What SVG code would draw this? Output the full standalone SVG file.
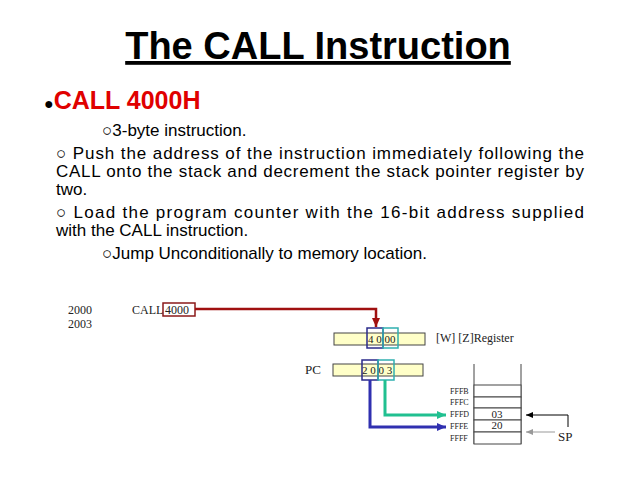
<svg xmlns="http://www.w3.org/2000/svg" width="638" height="478" viewBox="0 0 638 478">
<style>
.b{font-family:"Liberation Sans",Arial,sans-serif;font-size:17px;fill:#000}
.s{font-family:"Liberation Serif","Times New Roman",serif;fill:#222}
.bar{fill:#ffffc8;stroke:#444;stroke-width:1}
.cell{fill:#fff;stroke:#444;stroke-width:1}
</style>
<defs>
<marker id="ar" markerUnits="userSpaceOnUse" markerWidth="10" markerHeight="10" refX="9" refY="5" orient="auto"><path d="M0,1L9,5L0,9z" fill="#a01010"/></marker>
<marker id="ab" markerUnits="userSpaceOnUse" markerWidth="10" markerHeight="10" refX="9" refY="5" orient="auto"><path d="M0,1L9,5L0,9z" fill="#3030b0"/></marker>
<marker id="ac" markerUnits="userSpaceOnUse" markerWidth="10" markerHeight="10" refX="9" refY="5" orient="auto"><path d="M0,1L9,5L0,9z" fill="#20c090"/></marker>
<marker id="ak" markerUnits="userSpaceOnUse" markerWidth="8" markerHeight="8" refX="7" refY="4" orient="auto"><path d="M0,1L7,4L0,7z" fill="#000"/></marker>
<marker id="ag" markerUnits="userSpaceOnUse" markerWidth="8" markerHeight="8" refX="7" refY="4" orient="auto"><path d="M0,1L7,4L0,7z" fill="#999"/></marker>
</defs>
<rect width="638" height="478" fill="#fff"/>
<text x="318" y="59" text-anchor="middle" font-family="Liberation Sans,Arial,sans-serif" font-size="38" font-weight="bold" text-decoration="underline">The CALL Instruction</text>
<text x="44" y="109" font-family="Liberation Sans,Arial,sans-serif" font-size="25" font-weight="bold" fill="#e00000"><tspan fill="#000" font-size="16">●</tspan>CALL 4000H</text>
<text class="b" x="102" y="136">○3-byte instruction.</text>
<text class="b" x="56" y="159" textLength="528" lengthAdjust="spacing">○   Push the address of the instruction immediately following  the</text>
<text class="b" x="56" y="177" textLength="528" lengthAdjust="spacing">CALL onto the stack and decrement the stack pointer register  by</text>
<text class="b" x="56" y="195">two.</text>
<text class="b" x="56" y="218" textLength="528" lengthAdjust="spacing">○   Load the program counter with the 16-bit address supplied</text>
<text class="b" x="56" y="236">with the CALL instruction.</text>
<text class="b" x="102" y="259">○Jump Unconditionally to memory location.</text>

<g id="addr"><text class="s" x="68" y="314" font-size="12">2000</text><text class="s" x="68" y="328" font-size="12">2003</text></g>
<g id="call"><text class="s" x="132" y="314" font-size="12">CALL</text><rect x="163" y="303" width="32" height="13" fill="none" stroke="#8b1a1a" stroke-width="1.5"/><text class="s" x="165" y="314" font-size="12">4000</text></g>
<g id="wz"><rect class="bar" x="334" y="333" width="91" height="12"/><text class="s" x="368" y="343" font-size="11">4 0 00</text>
<rect x="367" y="328" width="16" height="20" fill="none" stroke="#2a2a8a" stroke-width="1.5"/><rect x="383" y="328" width="15" height="20" fill="none" stroke="#30b0b0" stroke-width="1.5"/>
<text class="s" x="436" y="342" font-size="12">[W]  [Z]Register</text></g>
<g id="pc"><text class="s" x="305" y="374" font-size="13">PC</text><rect class="bar" x="333" y="364" width="90" height="12"/><text class="s" x="362" y="374" font-size="11">2 0 0 3</text>
<rect x="362" y="360" width="16" height="20" fill="none" stroke="#2a2a8a" stroke-width="1.5"/><rect x="378" y="360" width="16" height="20" fill="none" stroke="#30b0b0" stroke-width="1.5"/></g>
<g id="stack">
<path d="M474,364V444M521,364V444" stroke="#444" fill="none"/>
<rect class="cell" x="474" y="385" width="47" height="12"/><rect class="cell" x="474" y="397" width="47" height="11"/><rect class="cell" x="474" y="408" width="47" height="12"/><rect class="cell" x="474" y="420" width="47" height="12"/><rect class="cell" x="474" y="432" width="47" height="12"/>
<text class="s" x="450" y="394" font-size="8">FFFB</text><text class="s" x="450" y="405" font-size="8">FFFC</text><text class="s" x="450" y="417" font-size="8">FFFD</text><text class="s" x="450" y="429" font-size="8">FFFE</text><text class="s" x="450" y="441" font-size="8">FFFF</text>
<text class="s" x="497" y="418" font-size="11" text-anchor="middle">03</text><text class="s" x="497" y="429" font-size="11" text-anchor="middle">20</text>
<text class="s" x="558" y="441" font-size="13">SP</text></g>
<g id="connectors" fill="none">
<path d="M195,309H376V327" stroke="#a01010" stroke-width="2.5" marker-end="url(#ar)"/>
<path d="M370,380V427H446" stroke="#3030b0" stroke-width="3" marker-end="url(#ab)"/>
<path d="M385,380V415H446" stroke="#20c090" stroke-width="3" marker-end="url(#ac)"/>
<path d="M568,427V415H526" stroke="#000" stroke-width="1" marker-end="url(#ak)"/>
<path d="M555,432H526" stroke="#999" stroke-width="1" marker-end="url(#ag)"/>
</g>
</svg>
